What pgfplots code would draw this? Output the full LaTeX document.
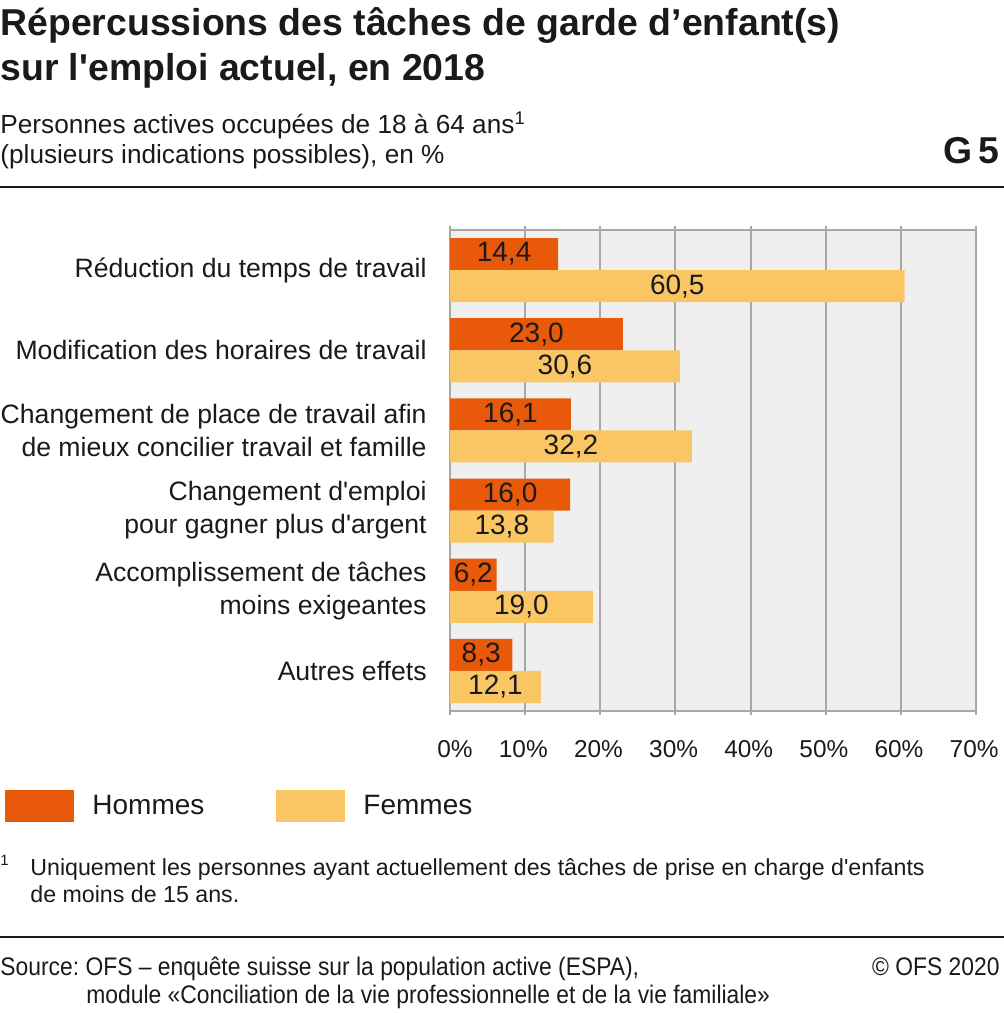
\documentclass[border=0pt]{standalone}
\usepackage{pgfplots}
\pgfplotsset{compat=1.18}
\usepackage{fontspec}
\setmainfont{Liberation Sans}
\newfontfamily\condfont[FakeStretch=0.9]{Liberation Sans}
\definecolor{hom}{HTML}{E8590A}
\definecolor{fem}{HTML}{FAC664}
\definecolor{gridc}{HTML}{A8A8A8}
\definecolor{bgc}{HTML}{EFEFEF}
\definecolor{txt}{HTML}{1A1A1A}
\frenchspacing
\begin{document}
\begin{tikzpicture}
\useasboundingbox (0pt,0pt) rectangle (502pt,-506.5pt);
\begin{scope}[x=0.5pt,y=-0.5pt]
\node[anchor=base west, inner sep=0pt, font=\fontsize{18.7}{22}\selectfont\bfseries, text=txt] at (0,35) {Répercussions des tâches de garde d’enfant(s)};
\node[anchor=base west, inner sep=0pt, font=\fontsize{18.7}{22}\selectfont\bfseries, text=txt] at (0,80) {sur l\textquotesingle emploi actuel, en 2018};
\node[anchor=base west, inner sep=0pt, font=\fontsize{13.1}{15}\selectfont, text=txt] at (0,133) {Personnes actives occupées de 18 à 64 ans\textsuperscript{1}};
\node[anchor=base west, inner sep=0pt, font=\fontsize{13.1}{15}\selectfont, text=txt] at (0,163) {(plusieurs indications possibles), en \%};
\node[anchor=base east, inner sep=0pt, font=\fontsize{18.7}{22}\selectfont\bfseries, text=txt] at (1000,163) {G\,5};
\draw[line width=1pt, txt] (0,187) -- (1004,187);
\draw[line width=1pt, txt] (0,937) -- (1004,937);
\node[anchor=base west, inner sep=0pt, font=\fontsize{7.5}{8}\selectfont, text=txt] at (0,865) {1};
\node[anchor=base west, inner sep=0pt, font=\fontsize{11.6}{13}\selectfont, text=txt] at (30,875) {Uniquement les personnes ayant actuellement des tâches de prise en charge d\textquotesingle enfants};
\node[anchor=base west, inner sep=0pt, font=\fontsize{11.6}{13}\selectfont, text=txt] at (30,902) {de moins de 15 ans.};
\node[anchor=base west, inner sep=0pt, font=\condfont\fontsize{12.7}{14}\selectfont, text=txt] at (0,975) {Source: OFS – enquête suisse sur la population active (ESPA),};
\node[anchor=base west, inner sep=0pt, font=\condfont\fontsize{12.7}{14}\selectfont, text=txt] at (86,1003) {module «Conciliation de la vie professionnelle et de la vie familiale»};
\node[anchor=base east, inner sep=0pt, font=\condfont\fontsize{12.7}{14}\selectfont, text=txt] at (1000,975) {© OFS 2020};
\end{scope}
\begin{axis}[
  at={(225pt,-115pt)}, anchor=north west,
  scale only axis, width=263pt, height=240.5pt,
  xmin=0, xmax=70, ymin=-0.5, ymax=5.5, y dir=reverse,
  axis background/.style={fill=bgc},
  axis line style={draw=gridc, line width=1pt},
  xmajorgrids, grid style={draw=gridc, line width=1pt},
  xtick={0,10,...,70},
  xtick style={draw=gridc, line width=1pt},
  major tick length=2pt, tick align=outside,
  xticklabel={\pgfmathprintnumber[assume math mode=true]{\tick}\%},
  xticklabel style={anchor=base east, inner sep=0pt, xshift=11.5pt, yshift=-21pt, font=\fontsize{12.2}{14}\selectfont, text=txt},
  ytick={0,...,5},
  ytick style={draw=none},
  yticklabels={Réduction du temps de travail, Modification des horaires de travail, {Changement de place de travail afin\\de mieux concilier travail et famille}, {Changement d\textquotesingle emploi\\pour gagner plus d\textquotesingle argent}, {Accomplissement de tâches\\moins exigeantes}, Autres effets},
  yticklabel style={align=right, inner sep=0pt, xshift=-9.5pt, font=\fontsize{13.3}{16.5}\selectfont, text=txt},
  /pgf/number format/assume math mode=true,
  xbar, bar width=0.4,
  point meta=x,
  visualization depends on=rawx \as \rawx,
  nodes near coords={\pgfmathprintnumber[fixed,fixed zerofill,precision=1,use comma,assume math mode=true]{\pgfplotspointmeta}},
  nodes near coords style={anchor=center, inner sep=0pt, xshift={-1.8786pt*\rawx}, font=\fontsize{14}{16}\selectfont, text=txt},
  legend style={at={(-0.846,-0.1642)}, anchor=north west, draw=none, fill=none, inner sep=0pt,
    font=\fontsize{14}{16}\selectfont, text=txt,
    nodes={inner sep=0pt},
    /tikz/every odd column/.append style={column sep=9pt},
    /tikz/every even column/.append style={column sep=36pt}},
  legend columns=2,
  legend image code/.code={\fill[#1] (0pt,-8pt) rectangle (34.5pt,8pt);},
]
\addplot[fill=hom, draw=none, bar shift=-0.2] coordinates {(14.4,0) (23.0,1) (16.1,2) (16.0,3) (6.2,4) (8.3,5)};
\addlegendentry{Hommes}
\addplot[fill=fem, draw=none, bar shift=0.2] coordinates {(60.5,0) (30.6,1) (32.2,2) (13.8,3) (19.0,4) (12.1,5)};
\addlegendentry{Femmes}
\end{axis}
\end{tikzpicture}
\end{document}
